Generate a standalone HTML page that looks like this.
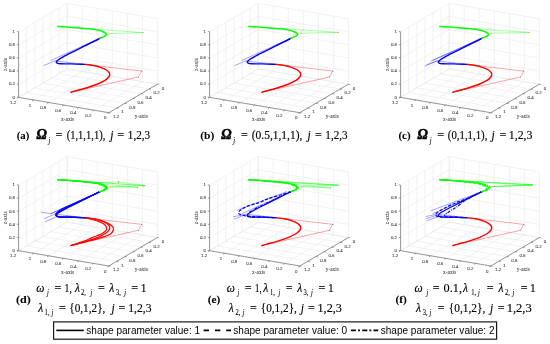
<!DOCTYPE html>
<html><head><meta charset="utf-8"><title>figure</title><style>
html,body{margin:0;padding:0;background:#fff;}
svg{display:block;}
#wrap{width:550px;height:344px;}
.g{stroke:#e4e4e4;stroke-width:0.5;}
.a{stroke:#6e6e6e;stroke-width:0.7;}
.t{font-family:"Liberation Sans",Arial,sans-serif;font-size:44px;fill:#333;stroke:#333;stroke-width:0.5px;}
.al{font-family:"Liberation Serif","Times New Roman",serif;font-size:54px;fill:#444;stroke:#444;stroke-width:0.5px;}
.kr,.kb,.kg{fill:none;stroke-width:1.45;stroke-linecap:round;stroke-linejoin:round;}
.kr{stroke:#ff0000;}.kb{stroke:#0000ff;}.kg{stroke:#00ff00;}
.thr,.thb,.thg{fill:none;stroke-width:0.45;stroke-opacity:0.8;}
.thr{stroke:#ff0000;}.thb{stroke:#0000ff;}.thg{stroke:#00ff00;}
.c{font-family:"Liberation Serif","Times New Roman",serif;fill:#000;stroke:#000;stroke-width:0.14px;}
.c[font-weight="bold"]{stroke-width:0.05px;}
.c[font-size="13.8"]{stroke-width:0.55px;}
.c[font-size="6.9"]{stroke-width:0.08px;}
.sub{font-size:7px;font-style:italic;}
.lg{font-family:"Liberation Sans",Arial,sans-serif;font-size:10.05px;fill:#000;}
</style></head>
<body><div id="wrap"><svg width="550" height="344" viewBox="0 0 550 344">
<rect width="550" height="344" fill="#fff"/>
<line class="g" x1="157.4" y1="84.2" x2="108.8" y2="112.7"/>
<line class="g" x1="142.37" y1="81.65" x2="93.77" y2="110.15"/>
<line class="g" x1="127.33" y1="79.1" x2="78.73" y2="107.6"/>
<line class="g" x1="112.3" y1="76.55" x2="63.7" y2="105.05"/>
<line class="g" x1="97.26" y1="74" x2="48.66" y2="102.5"/>
<line class="g" x1="82.23" y1="71.45" x2="33.63" y2="99.95"/>
<line class="g" x1="67.2" y1="68.9" x2="18.6" y2="97.4"/>
<line class="g" x1="157.4" y1="84.2" x2="67.2" y2="68.9"/>
<line class="g" x1="149.3" y1="88.95" x2="59.1" y2="73.65"/>
<line class="g" x1="141.2" y1="93.7" x2="51" y2="78.4"/>
<line class="g" x1="133.1" y1="98.45" x2="42.9" y2="83.15"/>
<line class="g" x1="125" y1="103.2" x2="34.8" y2="87.9"/>
<line class="g" x1="116.9" y1="107.95" x2="26.7" y2="92.65"/>
<line class="g" x1="108.8" y1="112.7" x2="18.6" y2="97.4"/>
<line class="g" x1="67.2" y1="68.9" x2="67.2" y2="3.3"/>
<line class="g" x1="59.1" y1="73.65" x2="59.1" y2="8.05"/>
<line class="g" x1="51" y1="78.4" x2="51" y2="12.8"/>
<line class="g" x1="42.9" y1="83.15" x2="42.9" y2="17.55"/>
<line class="g" x1="34.8" y1="87.9" x2="34.8" y2="22.3"/>
<line class="g" x1="26.7" y1="92.65" x2="26.7" y2="27.05"/>
<line class="g" x1="18.6" y1="97.4" x2="18.6" y2="31.8"/>
<line class="g" x1="67.2" y1="68.9" x2="18.6" y2="97.4"/>
<line class="g" x1="67.2" y1="55.78" x2="18.6" y2="84.28"/>
<line class="g" x1="67.2" y1="42.66" x2="18.6" y2="71.16"/>
<line class="g" x1="67.2" y1="29.54" x2="18.6" y2="58.04"/>
<line class="g" x1="67.2" y1="16.42" x2="18.6" y2="44.92"/>
<line class="g" x1="67.2" y1="3.3" x2="18.6" y2="31.8"/>
<line class="g" x1="157.4" y1="84.2" x2="157.4" y2="18.6"/>
<line class="g" x1="142.37" y1="81.65" x2="142.37" y2="16.05"/>
<line class="g" x1="127.33" y1="79.1" x2="127.33" y2="13.5"/>
<line class="g" x1="112.3" y1="76.55" x2="112.3" y2="10.95"/>
<line class="g" x1="97.26" y1="74" x2="97.26" y2="8.4"/>
<line class="g" x1="82.23" y1="71.45" x2="82.23" y2="5.85"/>
<line class="g" x1="67.2" y1="68.9" x2="67.2" y2="3.3"/>
<line class="g" x1="157.4" y1="84.2" x2="67.2" y2="68.9"/>
<line class="g" x1="157.4" y1="71.08" x2="67.2" y2="55.78"/>
<line class="g" x1="157.4" y1="57.96" x2="67.2" y2="42.66"/>
<line class="g" x1="157.4" y1="44.84" x2="67.2" y2="29.54"/>
<line class="g" x1="157.4" y1="31.72" x2="67.2" y2="16.42"/>
<line class="g" x1="157.4" y1="18.6" x2="67.2" y2="3.3"/>
<line class="a" x1="18.6" y1="97.4" x2="108.8" y2="112.7"/>
<line class="a" x1="108.8" y1="112.7" x2="157.4" y2="84.2"/>
<line class="a" x1="18.6" y1="97.4" x2="18.6" y2="31.8"/>
<line class="a" x1="108.8" y1="112.7" x2="107.25" y2="113.61"/>
<line class="a" x1="93.77" y1="110.15" x2="92.21" y2="111.06"/>
<line class="a" x1="78.73" y1="107.6" x2="77.18" y2="108.51"/>
<line class="a" x1="63.7" y1="105.05" x2="62.15" y2="105.96"/>
<line class="a" x1="48.66" y1="102.5" x2="47.11" y2="103.41"/>
<line class="a" x1="33.63" y1="99.95" x2="32.08" y2="100.86"/>
<line class="a" x1="18.6" y1="97.4" x2="17.04" y2="98.31"/>
<line class="a" x1="157.4" y1="84.2" x2="159.17" y2="84.5"/>
<line class="a" x1="149.3" y1="88.95" x2="151.07" y2="89.25"/>
<line class="a" x1="141.2" y1="93.7" x2="142.97" y2="94"/>
<line class="a" x1="133.1" y1="98.45" x2="134.87" y2="98.75"/>
<line class="a" x1="125" y1="103.2" x2="126.77" y2="103.5"/>
<line class="a" x1="116.9" y1="107.95" x2="118.67" y2="108.25"/>
<line class="a" x1="108.8" y1="112.7" x2="110.57" y2="113"/>
<line class="a" x1="18.6" y1="97.4" x2="16.82" y2="97.1"/>
<line class="a" x1="18.6" y1="84.28" x2="16.82" y2="83.98"/>
<line class="a" x1="18.6" y1="71.16" x2="16.82" y2="70.86"/>
<line class="a" x1="18.6" y1="58.04" x2="16.82" y2="57.74"/>
<line class="a" x1="18.6" y1="44.92" x2="16.82" y2="44.62"/>
<line class="a" x1="18.6" y1="31.8" x2="16.82" y2="31.5"/>
<text class="t" text-anchor="end" transform="translate(106.4 119.4) scale(0.1)">0</text>
<text class="t" text-anchor="end" transform="translate(91.37 116.85) scale(0.1)">0.2</text>
<text class="t" text-anchor="end" transform="translate(76.33 114.3) scale(0.1)">0.4</text>
<text class="t" text-anchor="end" transform="translate(61.3 111.75) scale(0.1)">0.6</text>
<text class="t" text-anchor="end" transform="translate(46.26 109.2) scale(0.1)">0.8</text>
<text class="t" text-anchor="end" transform="translate(31.23 106.65) scale(0.1)">1</text>
<text class="t" text-anchor="end" transform="translate(16.2 104.1) scale(0.1)">1.2</text>
<text class="t" text-anchor="start" transform="translate(161.7 89.6) scale(0.1)">0</text>
<text class="t" text-anchor="start" transform="translate(153.6 94.35) scale(0.1)">0.2</text>
<text class="t" text-anchor="start" transform="translate(145.5 99.1) scale(0.1)">0.4</text>
<text class="t" text-anchor="start" transform="translate(137.4 103.85) scale(0.1)">0.6</text>
<text class="t" text-anchor="start" transform="translate(129.3 108.6) scale(0.1)">0.8</text>
<text class="t" text-anchor="start" transform="translate(121.2 113.35) scale(0.1)">1</text>
<text class="t" text-anchor="start" transform="translate(113.1 118.1) scale(0.1)">1.2</text>
<text class="t" text-anchor="end" transform="translate(15 98.6) scale(0.1)">0</text>
<text class="t" text-anchor="end" transform="translate(15 85.48) scale(0.1)">0.2</text>
<text class="t" text-anchor="end" transform="translate(15 72.36) scale(0.1)">0.4</text>
<text class="t" text-anchor="end" transform="translate(15 59.24) scale(0.1)">0.6</text>
<text class="t" text-anchor="end" transform="translate(15 46.12) scale(0.1)">0.8</text>
<text class="t" text-anchor="end" transform="translate(15 33) scale(0.1)">1</text>
<text class="al" text-anchor="middle" transform="translate(67.6 120.5) scale(0.1)">x-axis</text>
<text class="al" text-anchor="middle" transform="translate(141.3 118) scale(0.1)">y-axis</text>
<text class="al" text-anchor="middle" transform="translate(6.9 64.5) rotate(-90) scale(0.1)">z-axis</text>
<path class="thg" d="M57.7 26.4 L143.1 32.6 L110.5 33.5 L99.9 38.3"/>
<path class="thb" d="M99.9 38.3 L50.6 60.5"/>
<path class="thb" d="M43.5 65.6 L55 60.9 L84.6 64.4"/>
<path class="thr" d="M84.6 64.4 L141.8 71.1 L138.4 77 L71 92.2"/>
<circle cx="57.7" cy="26.4" r="0.6" fill="#f0a030"/>
<circle cx="143.1" cy="32.6" r="0.6" fill="#f0a030"/>
<circle cx="110.5" cy="33.5" r="0.6" fill="#f0a030"/>
<circle cx="55" cy="60.9" r="0.6" fill="#f0a030"/>
<circle cx="141.8" cy="71.1" r="0.6" fill="#5b9bd5"/>
<circle cx="138.4" cy="77" r="0.6" fill="#5b9bd5"/>
<circle cx="71" cy="92.2" r="0.6" fill="#5b9bd5"/>
<path class="kr" d="M84.6 64.4C86.07 64.58 90.67 64.97 93.4 65.5C96.13 66.03 98.82 66.85 101 67.6C103.18 68.35 105.08 69.08 106.5 70C107.92 70.92 109.05 72.03 109.5 73.1C109.95 74.17 109.88 75.22 109.2 76.4C108.52 77.58 107.32 78.93 105.4 80.2C103.48 81.47 100.8 82.73 97.7 84C94.6 85.27 90.43 86.67 86.8 87.8C83.17 88.93 78.53 90.07 75.9 90.8C73.27 91.53 71.82 91.97 71 92.2"/>
<path class="kb" d="M99.9 38.3C98.85 38.83 96.47 40.07 93.6 41.5C90.73 42.93 86.33 45.08 82.7 46.9C79.07 48.72 75.07 50.73 71.8 52.4C68.53 54.07 65.28 55.72 63.1 56.9C60.92 58.08 59.8 58.72 58.7 59.5C57.6 60.28 56.77 61 56.5 61.6C56.23 62.2 56.37 62.73 57.1 63.1C57.83 63.47 58.45 63.67 60.9 63.8C63.35 63.93 67.85 63.8 71.8 63.9C75.75 64 82.47 64.32 84.6 64.4"/>
<path class="kg" d="M57.7 26.4C59.07 26.48 62.72 26.67 65.9 26.9C69.08 27.13 73.17 27.48 76.8 27.8C80.43 28.12 84.42 28.45 87.7 28.8C90.98 29.15 94.13 29.48 96.5 29.9C98.87 30.32 100.37 30.77 101.9 31.3C103.43 31.83 104.97 32.5 105.7 33.1C106.43 33.7 106.57 34.3 106.3 34.9C106.03 35.5 105.17 36.13 104.1 36.7C103.03 37.27 100.6 38.03 99.9 38.3"/>
<line class="g" x1="348.4" y1="84.2" x2="299.8" y2="112.7"/>
<line class="g" x1="333.37" y1="81.65" x2="284.77" y2="110.15"/>
<line class="g" x1="318.33" y1="79.1" x2="269.73" y2="107.6"/>
<line class="g" x1="303.3" y1="76.55" x2="254.7" y2="105.05"/>
<line class="g" x1="288.26" y1="74" x2="239.66" y2="102.5"/>
<line class="g" x1="273.23" y1="71.45" x2="224.63" y2="99.95"/>
<line class="g" x1="258.2" y1="68.9" x2="209.6" y2="97.4"/>
<line class="g" x1="348.4" y1="84.2" x2="258.2" y2="68.9"/>
<line class="g" x1="340.3" y1="88.95" x2="250.1" y2="73.65"/>
<line class="g" x1="332.2" y1="93.7" x2="242" y2="78.4"/>
<line class="g" x1="324.1" y1="98.45" x2="233.9" y2="83.15"/>
<line class="g" x1="316" y1="103.2" x2="225.8" y2="87.9"/>
<line class="g" x1="307.9" y1="107.95" x2="217.7" y2="92.65"/>
<line class="g" x1="299.8" y1="112.7" x2="209.6" y2="97.4"/>
<line class="g" x1="258.2" y1="68.9" x2="258.2" y2="3.3"/>
<line class="g" x1="250.1" y1="73.65" x2="250.1" y2="8.05"/>
<line class="g" x1="242" y1="78.4" x2="242" y2="12.8"/>
<line class="g" x1="233.9" y1="83.15" x2="233.9" y2="17.55"/>
<line class="g" x1="225.8" y1="87.9" x2="225.8" y2="22.3"/>
<line class="g" x1="217.7" y1="92.65" x2="217.7" y2="27.05"/>
<line class="g" x1="209.6" y1="97.4" x2="209.6" y2="31.8"/>
<line class="g" x1="258.2" y1="68.9" x2="209.6" y2="97.4"/>
<line class="g" x1="258.2" y1="55.78" x2="209.6" y2="84.28"/>
<line class="g" x1="258.2" y1="42.66" x2="209.6" y2="71.16"/>
<line class="g" x1="258.2" y1="29.54" x2="209.6" y2="58.04"/>
<line class="g" x1="258.2" y1="16.42" x2="209.6" y2="44.92"/>
<line class="g" x1="258.2" y1="3.3" x2="209.6" y2="31.8"/>
<line class="g" x1="348.4" y1="84.2" x2="348.4" y2="18.6"/>
<line class="g" x1="333.37" y1="81.65" x2="333.37" y2="16.05"/>
<line class="g" x1="318.33" y1="79.1" x2="318.33" y2="13.5"/>
<line class="g" x1="303.3" y1="76.55" x2="303.3" y2="10.95"/>
<line class="g" x1="288.26" y1="74" x2="288.26" y2="8.4"/>
<line class="g" x1="273.23" y1="71.45" x2="273.23" y2="5.85"/>
<line class="g" x1="258.2" y1="68.9" x2="258.2" y2="3.3"/>
<line class="g" x1="348.4" y1="84.2" x2="258.2" y2="68.9"/>
<line class="g" x1="348.4" y1="71.08" x2="258.2" y2="55.78"/>
<line class="g" x1="348.4" y1="57.96" x2="258.2" y2="42.66"/>
<line class="g" x1="348.4" y1="44.84" x2="258.2" y2="29.54"/>
<line class="g" x1="348.4" y1="31.72" x2="258.2" y2="16.42"/>
<line class="g" x1="348.4" y1="18.6" x2="258.2" y2="3.3"/>
<line class="a" x1="209.6" y1="97.4" x2="299.8" y2="112.7"/>
<line class="a" x1="299.8" y1="112.7" x2="348.4" y2="84.2"/>
<line class="a" x1="209.6" y1="97.4" x2="209.6" y2="31.8"/>
<line class="a" x1="299.8" y1="112.7" x2="298.25" y2="113.61"/>
<line class="a" x1="284.77" y1="110.15" x2="283.21" y2="111.06"/>
<line class="a" x1="269.73" y1="107.6" x2="268.18" y2="108.51"/>
<line class="a" x1="254.7" y1="105.05" x2="253.15" y2="105.96"/>
<line class="a" x1="239.66" y1="102.5" x2="238.11" y2="103.41"/>
<line class="a" x1="224.63" y1="99.95" x2="223.08" y2="100.86"/>
<line class="a" x1="209.6" y1="97.4" x2="208.04" y2="98.31"/>
<line class="a" x1="348.4" y1="84.2" x2="350.17" y2="84.5"/>
<line class="a" x1="340.3" y1="88.95" x2="342.07" y2="89.25"/>
<line class="a" x1="332.2" y1="93.7" x2="333.97" y2="94"/>
<line class="a" x1="324.1" y1="98.45" x2="325.87" y2="98.75"/>
<line class="a" x1="316" y1="103.2" x2="317.77" y2="103.5"/>
<line class="a" x1="307.9" y1="107.95" x2="309.67" y2="108.25"/>
<line class="a" x1="299.8" y1="112.7" x2="301.57" y2="113"/>
<line class="a" x1="209.6" y1="97.4" x2="207.82" y2="97.1"/>
<line class="a" x1="209.6" y1="84.28" x2="207.82" y2="83.98"/>
<line class="a" x1="209.6" y1="71.16" x2="207.82" y2="70.86"/>
<line class="a" x1="209.6" y1="58.04" x2="207.82" y2="57.74"/>
<line class="a" x1="209.6" y1="44.92" x2="207.82" y2="44.62"/>
<line class="a" x1="209.6" y1="31.8" x2="207.82" y2="31.5"/>
<text class="t" text-anchor="end" transform="translate(297.4 119.4) scale(0.1)">0</text>
<text class="t" text-anchor="end" transform="translate(282.37 116.85) scale(0.1)">0.2</text>
<text class="t" text-anchor="end" transform="translate(267.33 114.3) scale(0.1)">0.4</text>
<text class="t" text-anchor="end" transform="translate(252.3 111.75) scale(0.1)">0.6</text>
<text class="t" text-anchor="end" transform="translate(237.26 109.2) scale(0.1)">0.8</text>
<text class="t" text-anchor="end" transform="translate(222.23 106.65) scale(0.1)">1</text>
<text class="t" text-anchor="end" transform="translate(207.2 104.1) scale(0.1)">1.2</text>
<text class="t" text-anchor="start" transform="translate(352.7 89.6) scale(0.1)">0</text>
<text class="t" text-anchor="start" transform="translate(344.6 94.35) scale(0.1)">0.2</text>
<text class="t" text-anchor="start" transform="translate(336.5 99.1) scale(0.1)">0.4</text>
<text class="t" text-anchor="start" transform="translate(328.4 103.85) scale(0.1)">0.6</text>
<text class="t" text-anchor="start" transform="translate(320.3 108.6) scale(0.1)">0.8</text>
<text class="t" text-anchor="start" transform="translate(312.2 113.35) scale(0.1)">1</text>
<text class="t" text-anchor="start" transform="translate(304.1 118.1) scale(0.1)">1.2</text>
<text class="t" text-anchor="end" transform="translate(206 98.6) scale(0.1)">0</text>
<text class="t" text-anchor="end" transform="translate(206 85.48) scale(0.1)">0.2</text>
<text class="t" text-anchor="end" transform="translate(206 72.36) scale(0.1)">0.4</text>
<text class="t" text-anchor="end" transform="translate(206 59.24) scale(0.1)">0.6</text>
<text class="t" text-anchor="end" transform="translate(206 46.12) scale(0.1)">0.8</text>
<text class="t" text-anchor="end" transform="translate(206 33) scale(0.1)">1</text>
<text class="al" text-anchor="middle" transform="translate(258.6 120.5) scale(0.1)">x-axis</text>
<text class="al" text-anchor="middle" transform="translate(332.3 118) scale(0.1)">y-axis</text>
<text class="al" text-anchor="middle" transform="translate(197.9 64.5) rotate(-90) scale(0.1)">z-axis</text>
<path class="thg" d="M248.7 26.4 L338.3 32.4 L301 33.2 L290.9 38.3"/>
<path class="thb" d="M290.9 38.3 L241.6 60.5"/>
<path class="thb" d="M234.5 65.6 L246 60.9 L275.6 64.4"/>
<path class="thr" d="M275.6 64.4 L332.8 71.1 L329.4 77 L262 92.2"/>
<circle cx="248.7" cy="26.4" r="0.6" fill="#f0a030"/>
<circle cx="338.3" cy="32.4" r="0.6" fill="#f0a030"/>
<circle cx="301" cy="33.2" r="0.6" fill="#f0a030"/>
<circle cx="246" cy="60.9" r="0.6" fill="#f0a030"/>
<circle cx="332.8" cy="71.1" r="0.6" fill="#5b9bd5"/>
<circle cx="329.4" cy="77" r="0.6" fill="#5b9bd5"/>
<circle cx="262" cy="92.2" r="0.6" fill="#5b9bd5"/>
<path class="kr" d="M275.6 64.4C277.07 64.58 281.67 64.97 284.4 65.5C287.13 66.03 289.82 66.85 292 67.6C294.18 68.35 296.08 69.08 297.5 70C298.92 70.92 300.05 72.03 300.5 73.1C300.95 74.17 300.88 75.22 300.2 76.4C299.52 77.58 298.32 78.93 296.4 80.2C294.48 81.47 291.8 82.73 288.7 84C285.6 85.27 281.43 86.67 277.8 87.8C274.17 88.93 269.53 90.07 266.9 90.8C264.27 91.53 262.82 91.97 262 92.2"/>
<path class="kb" d="M290.9 38.3C289.85 38.83 287.47 40.07 284.6 41.5C281.73 42.93 277.33 45.08 273.7 46.9C270.07 48.72 266.07 50.73 262.8 52.4C259.53 54.07 256.28 55.72 254.1 56.9C251.92 58.08 250.8 58.72 249.7 59.5C248.6 60.28 247.77 61 247.5 61.6C247.23 62.2 247.37 62.73 248.1 63.1C248.83 63.47 249.45 63.67 251.9 63.8C254.35 63.93 258.85 63.8 262.8 63.9C266.75 64 273.47 64.32 275.6 64.4"/>
<path class="kg" d="M248.7 26.4C250.07 26.48 253.72 26.67 256.9 26.9C260.08 27.13 264.17 27.48 267.8 27.8C271.43 28.12 275.42 28.45 278.7 28.8C281.98 29.15 285.13 29.48 287.5 29.9C289.87 30.32 291.37 30.77 292.9 31.3C294.43 31.83 295.97 32.5 296.7 33.1C297.43 33.7 297.57 34.3 297.3 34.9C297.03 35.5 296.17 36.13 295.1 36.7C294.03 37.27 291.6 38.03 290.9 38.3"/>
<line class="g" x1="539.4" y1="84.2" x2="490.8" y2="112.7"/>
<line class="g" x1="524.37" y1="81.65" x2="475.77" y2="110.15"/>
<line class="g" x1="509.33" y1="79.1" x2="460.73" y2="107.6"/>
<line class="g" x1="494.3" y1="76.55" x2="445.7" y2="105.05"/>
<line class="g" x1="479.26" y1="74" x2="430.66" y2="102.5"/>
<line class="g" x1="464.23" y1="71.45" x2="415.63" y2="99.95"/>
<line class="g" x1="449.2" y1="68.9" x2="400.6" y2="97.4"/>
<line class="g" x1="539.4" y1="84.2" x2="449.2" y2="68.9"/>
<line class="g" x1="531.3" y1="88.95" x2="441.1" y2="73.65"/>
<line class="g" x1="523.2" y1="93.7" x2="433" y2="78.4"/>
<line class="g" x1="515.1" y1="98.45" x2="424.9" y2="83.15"/>
<line class="g" x1="507" y1="103.2" x2="416.8" y2="87.9"/>
<line class="g" x1="498.9" y1="107.95" x2="408.7" y2="92.65"/>
<line class="g" x1="490.8" y1="112.7" x2="400.6" y2="97.4"/>
<line class="g" x1="449.2" y1="68.9" x2="449.2" y2="3.3"/>
<line class="g" x1="441.1" y1="73.65" x2="441.1" y2="8.05"/>
<line class="g" x1="433" y1="78.4" x2="433" y2="12.8"/>
<line class="g" x1="424.9" y1="83.15" x2="424.9" y2="17.55"/>
<line class="g" x1="416.8" y1="87.9" x2="416.8" y2="22.3"/>
<line class="g" x1="408.7" y1="92.65" x2="408.7" y2="27.05"/>
<line class="g" x1="400.6" y1="97.4" x2="400.6" y2="31.8"/>
<line class="g" x1="449.2" y1="68.9" x2="400.6" y2="97.4"/>
<line class="g" x1="449.2" y1="55.78" x2="400.6" y2="84.28"/>
<line class="g" x1="449.2" y1="42.66" x2="400.6" y2="71.16"/>
<line class="g" x1="449.2" y1="29.54" x2="400.6" y2="58.04"/>
<line class="g" x1="449.2" y1="16.42" x2="400.6" y2="44.92"/>
<line class="g" x1="449.2" y1="3.3" x2="400.6" y2="31.8"/>
<line class="g" x1="539.4" y1="84.2" x2="539.4" y2="18.6"/>
<line class="g" x1="524.37" y1="81.65" x2="524.37" y2="16.05"/>
<line class="g" x1="509.33" y1="79.1" x2="509.33" y2="13.5"/>
<line class="g" x1="494.3" y1="76.55" x2="494.3" y2="10.95"/>
<line class="g" x1="479.26" y1="74" x2="479.26" y2="8.4"/>
<line class="g" x1="464.23" y1="71.45" x2="464.23" y2="5.85"/>
<line class="g" x1="449.2" y1="68.9" x2="449.2" y2="3.3"/>
<line class="g" x1="539.4" y1="84.2" x2="449.2" y2="68.9"/>
<line class="g" x1="539.4" y1="71.08" x2="449.2" y2="55.78"/>
<line class="g" x1="539.4" y1="57.96" x2="449.2" y2="42.66"/>
<line class="g" x1="539.4" y1="44.84" x2="449.2" y2="29.54"/>
<line class="g" x1="539.4" y1="31.72" x2="449.2" y2="16.42"/>
<line class="g" x1="539.4" y1="18.6" x2="449.2" y2="3.3"/>
<line class="a" x1="400.6" y1="97.4" x2="490.8" y2="112.7"/>
<line class="a" x1="490.8" y1="112.7" x2="539.4" y2="84.2"/>
<line class="a" x1="400.6" y1="97.4" x2="400.6" y2="31.8"/>
<line class="a" x1="490.8" y1="112.7" x2="489.25" y2="113.61"/>
<line class="a" x1="475.77" y1="110.15" x2="474.21" y2="111.06"/>
<line class="a" x1="460.73" y1="107.6" x2="459.18" y2="108.51"/>
<line class="a" x1="445.7" y1="105.05" x2="444.15" y2="105.96"/>
<line class="a" x1="430.66" y1="102.5" x2="429.11" y2="103.41"/>
<line class="a" x1="415.63" y1="99.95" x2="414.08" y2="100.86"/>
<line class="a" x1="400.6" y1="97.4" x2="399.04" y2="98.31"/>
<line class="a" x1="539.4" y1="84.2" x2="541.17" y2="84.5"/>
<line class="a" x1="531.3" y1="88.95" x2="533.07" y2="89.25"/>
<line class="a" x1="523.2" y1="93.7" x2="524.97" y2="94"/>
<line class="a" x1="515.1" y1="98.45" x2="516.87" y2="98.75"/>
<line class="a" x1="507" y1="103.2" x2="508.77" y2="103.5"/>
<line class="a" x1="498.9" y1="107.95" x2="500.67" y2="108.25"/>
<line class="a" x1="490.8" y1="112.7" x2="492.57" y2="113"/>
<line class="a" x1="400.6" y1="97.4" x2="398.82" y2="97.1"/>
<line class="a" x1="400.6" y1="84.28" x2="398.82" y2="83.98"/>
<line class="a" x1="400.6" y1="71.16" x2="398.82" y2="70.86"/>
<line class="a" x1="400.6" y1="58.04" x2="398.82" y2="57.74"/>
<line class="a" x1="400.6" y1="44.92" x2="398.82" y2="44.62"/>
<line class="a" x1="400.6" y1="31.8" x2="398.82" y2="31.5"/>
<text class="t" text-anchor="end" transform="translate(488.4 119.4) scale(0.1)">0</text>
<text class="t" text-anchor="end" transform="translate(473.37 116.85) scale(0.1)">0.2</text>
<text class="t" text-anchor="end" transform="translate(458.33 114.3) scale(0.1)">0.4</text>
<text class="t" text-anchor="end" transform="translate(443.3 111.75) scale(0.1)">0.6</text>
<text class="t" text-anchor="end" transform="translate(428.26 109.2) scale(0.1)">0.8</text>
<text class="t" text-anchor="end" transform="translate(413.23 106.65) scale(0.1)">1</text>
<text class="t" text-anchor="end" transform="translate(398.2 104.1) scale(0.1)">1.2</text>
<text class="t" text-anchor="start" transform="translate(543.7 89.6) scale(0.1)">0</text>
<text class="t" text-anchor="start" transform="translate(535.6 94.35) scale(0.1)">0.2</text>
<text class="t" text-anchor="start" transform="translate(527.5 99.1) scale(0.1)">0.4</text>
<text class="t" text-anchor="start" transform="translate(519.4 103.85) scale(0.1)">0.6</text>
<text class="t" text-anchor="start" transform="translate(511.3 108.6) scale(0.1)">0.8</text>
<text class="t" text-anchor="start" transform="translate(503.2 113.35) scale(0.1)">1</text>
<text class="t" text-anchor="start" transform="translate(495.1 118.1) scale(0.1)">1.2</text>
<text class="t" text-anchor="end" transform="translate(397 98.6) scale(0.1)">0</text>
<text class="t" text-anchor="end" transform="translate(397 85.48) scale(0.1)">0.2</text>
<text class="t" text-anchor="end" transform="translate(397 72.36) scale(0.1)">0.4</text>
<text class="t" text-anchor="end" transform="translate(397 59.24) scale(0.1)">0.6</text>
<text class="t" text-anchor="end" transform="translate(397 46.12) scale(0.1)">0.8</text>
<text class="t" text-anchor="end" transform="translate(397 33) scale(0.1)">1</text>
<text class="al" text-anchor="middle" transform="translate(449.6 120.5) scale(0.1)">x-axis</text>
<text class="al" text-anchor="middle" transform="translate(523.3 118) scale(0.1)">y-axis</text>
<text class="al" text-anchor="middle" transform="translate(388.9 64.5) rotate(-90) scale(0.1)">z-axis</text>
<path class="thg" d="M439.7 26.4 L529.3 32.4 L492 33.2 L481.9 38.3"/>
<path class="thb" d="M481.9 38.3 L432.6 60.5"/>
<path class="thb" d="M481.9 38.3 L430.5 61.2"/>
<path class="thb" d="M424.5 66.2 L437 60.9 L466.6 64.4"/>
<path class="thb" d="M426.5 64.8 L438 60.5"/>
<path class="thr" d="M466.6 64.4 L523.8 71.1 L520.4 77 L453 92.2"/>
<circle cx="439.7" cy="26.4" r="0.6" fill="#f0a030"/>
<circle cx="529.3" cy="32.4" r="0.6" fill="#f0a030"/>
<circle cx="492" cy="33.2" r="0.6" fill="#f0a030"/>
<circle cx="437" cy="60.9" r="0.6" fill="#f0a030"/>
<circle cx="523.8" cy="71.1" r="0.6" fill="#5b9bd5"/>
<circle cx="520.4" cy="77" r="0.6" fill="#5b9bd5"/>
<circle cx="453" cy="92.2" r="0.6" fill="#5b9bd5"/>
<path class="kr" d="M466.6 64.4C468.07 64.58 472.67 64.97 475.4 65.5C478.13 66.03 480.82 66.85 483 67.6C485.18 68.35 487.08 69.08 488.5 70C489.92 70.92 491.05 72.03 491.5 73.1C491.95 74.17 491.88 75.22 491.2 76.4C490.52 77.58 489.32 78.93 487.4 80.2C485.48 81.47 482.8 82.73 479.7 84C476.6 85.27 472.43 86.67 468.8 87.8C465.17 88.93 460.53 90.07 457.9 90.8C455.27 91.53 453.82 91.97 453 92.2"/>
<path class="kb" d="M481.9 38.3C480.85 38.83 478.47 40.07 475.6 41.5C472.73 42.93 468.33 45.08 464.7 46.9C461.07 48.72 457.07 50.73 453.8 52.4C450.53 54.07 447.28 55.72 445.1 56.9C442.92 58.08 441.8 58.72 440.7 59.5C439.6 60.28 438.77 61 438.5 61.6C438.23 62.2 438.37 62.73 439.1 63.1C439.83 63.47 440.45 63.67 442.9 63.8C445.35 63.93 449.85 63.8 453.8 63.9C457.75 64 464.47 64.32 466.6 64.4"/>
<path class="kg" d="M439.7 26.4C441.07 26.48 444.72 26.67 447.9 26.9C451.08 27.13 455.17 27.48 458.8 27.8C462.43 28.12 466.42 28.45 469.7 28.8C472.98 29.15 476.13 29.48 478.5 29.9C480.87 30.32 482.37 30.77 483.9 31.3C485.43 31.83 486.97 32.5 487.7 33.1C488.43 33.7 488.57 34.3 488.3 34.9C488.03 35.5 487.17 36.13 486.1 36.7C485.03 37.27 482.6 38.03 481.9 38.3"/>
<line class="g" x1="157.4" y1="237.5" x2="108.8" y2="266"/>
<line class="g" x1="142.37" y1="234.95" x2="93.77" y2="263.45"/>
<line class="g" x1="127.33" y1="232.4" x2="78.73" y2="260.9"/>
<line class="g" x1="112.3" y1="229.85" x2="63.7" y2="258.35"/>
<line class="g" x1="97.26" y1="227.3" x2="48.66" y2="255.8"/>
<line class="g" x1="82.23" y1="224.75" x2="33.63" y2="253.25"/>
<line class="g" x1="67.2" y1="222.2" x2="18.6" y2="250.7"/>
<line class="g" x1="157.4" y1="237.5" x2="67.2" y2="222.2"/>
<line class="g" x1="149.3" y1="242.25" x2="59.1" y2="226.95"/>
<line class="g" x1="141.2" y1="247" x2="51" y2="231.7"/>
<line class="g" x1="133.1" y1="251.75" x2="42.9" y2="236.45"/>
<line class="g" x1="125" y1="256.5" x2="34.8" y2="241.2"/>
<line class="g" x1="116.9" y1="261.25" x2="26.7" y2="245.95"/>
<line class="g" x1="108.8" y1="266" x2="18.6" y2="250.7"/>
<line class="g" x1="67.2" y1="222.2" x2="67.2" y2="156.6"/>
<line class="g" x1="59.1" y1="226.95" x2="59.1" y2="161.35"/>
<line class="g" x1="51" y1="231.7" x2="51" y2="166.1"/>
<line class="g" x1="42.9" y1="236.45" x2="42.9" y2="170.85"/>
<line class="g" x1="34.8" y1="241.2" x2="34.8" y2="175.6"/>
<line class="g" x1="26.7" y1="245.95" x2="26.7" y2="180.35"/>
<line class="g" x1="18.6" y1="250.7" x2="18.6" y2="185.1"/>
<line class="g" x1="67.2" y1="222.2" x2="18.6" y2="250.7"/>
<line class="g" x1="67.2" y1="209.08" x2="18.6" y2="237.58"/>
<line class="g" x1="67.2" y1="195.96" x2="18.6" y2="224.46"/>
<line class="g" x1="67.2" y1="182.84" x2="18.6" y2="211.34"/>
<line class="g" x1="67.2" y1="169.72" x2="18.6" y2="198.22"/>
<line class="g" x1="67.2" y1="156.6" x2="18.6" y2="185.1"/>
<line class="g" x1="157.4" y1="237.5" x2="157.4" y2="171.9"/>
<line class="g" x1="142.37" y1="234.95" x2="142.37" y2="169.35"/>
<line class="g" x1="127.33" y1="232.4" x2="127.33" y2="166.8"/>
<line class="g" x1="112.3" y1="229.85" x2="112.3" y2="164.25"/>
<line class="g" x1="97.26" y1="227.3" x2="97.26" y2="161.7"/>
<line class="g" x1="82.23" y1="224.75" x2="82.23" y2="159.15"/>
<line class="g" x1="67.2" y1="222.2" x2="67.2" y2="156.6"/>
<line class="g" x1="157.4" y1="237.5" x2="67.2" y2="222.2"/>
<line class="g" x1="157.4" y1="224.38" x2="67.2" y2="209.08"/>
<line class="g" x1="157.4" y1="211.26" x2="67.2" y2="195.96"/>
<line class="g" x1="157.4" y1="198.14" x2="67.2" y2="182.84"/>
<line class="g" x1="157.4" y1="185.02" x2="67.2" y2="169.72"/>
<line class="g" x1="157.4" y1="171.9" x2="67.2" y2="156.6"/>
<line class="a" x1="18.6" y1="250.7" x2="108.8" y2="266"/>
<line class="a" x1="108.8" y1="266" x2="157.4" y2="237.5"/>
<line class="a" x1="18.6" y1="250.7" x2="18.6" y2="185.1"/>
<line class="a" x1="108.8" y1="266" x2="107.25" y2="266.91"/>
<line class="a" x1="93.77" y1="263.45" x2="92.21" y2="264.36"/>
<line class="a" x1="78.73" y1="260.9" x2="77.18" y2="261.81"/>
<line class="a" x1="63.7" y1="258.35" x2="62.15" y2="259.26"/>
<line class="a" x1="48.66" y1="255.8" x2="47.11" y2="256.71"/>
<line class="a" x1="33.63" y1="253.25" x2="32.08" y2="254.16"/>
<line class="a" x1="18.6" y1="250.7" x2="17.04" y2="251.61"/>
<line class="a" x1="157.4" y1="237.5" x2="159.17" y2="237.8"/>
<line class="a" x1="149.3" y1="242.25" x2="151.07" y2="242.55"/>
<line class="a" x1="141.2" y1="247" x2="142.97" y2="247.3"/>
<line class="a" x1="133.1" y1="251.75" x2="134.87" y2="252.05"/>
<line class="a" x1="125" y1="256.5" x2="126.77" y2="256.8"/>
<line class="a" x1="116.9" y1="261.25" x2="118.67" y2="261.55"/>
<line class="a" x1="108.8" y1="266" x2="110.57" y2="266.3"/>
<line class="a" x1="18.6" y1="250.7" x2="16.82" y2="250.4"/>
<line class="a" x1="18.6" y1="237.58" x2="16.82" y2="237.28"/>
<line class="a" x1="18.6" y1="224.46" x2="16.82" y2="224.16"/>
<line class="a" x1="18.6" y1="211.34" x2="16.82" y2="211.04"/>
<line class="a" x1="18.6" y1="198.22" x2="16.82" y2="197.92"/>
<line class="a" x1="18.6" y1="185.1" x2="16.82" y2="184.8"/>
<text class="t" text-anchor="end" transform="translate(106.4 272.7) scale(0.1)">0</text>
<text class="t" text-anchor="end" transform="translate(91.37 270.15) scale(0.1)">0.2</text>
<text class="t" text-anchor="end" transform="translate(76.33 267.6) scale(0.1)">0.4</text>
<text class="t" text-anchor="end" transform="translate(61.3 265.05) scale(0.1)">0.6</text>
<text class="t" text-anchor="end" transform="translate(46.26 262.5) scale(0.1)">0.8</text>
<text class="t" text-anchor="end" transform="translate(31.23 259.95) scale(0.1)">1</text>
<text class="t" text-anchor="end" transform="translate(16.2 257.4) scale(0.1)">1.2</text>
<text class="t" text-anchor="start" transform="translate(161.7 242.9) scale(0.1)">0</text>
<text class="t" text-anchor="start" transform="translate(153.6 247.65) scale(0.1)">0.2</text>
<text class="t" text-anchor="start" transform="translate(145.5 252.4) scale(0.1)">0.4</text>
<text class="t" text-anchor="start" transform="translate(137.4 257.15) scale(0.1)">0.6</text>
<text class="t" text-anchor="start" transform="translate(129.3 261.9) scale(0.1)">0.8</text>
<text class="t" text-anchor="start" transform="translate(121.2 266.65) scale(0.1)">1</text>
<text class="t" text-anchor="start" transform="translate(113.1 271.4) scale(0.1)">1.2</text>
<text class="t" text-anchor="end" transform="translate(15 251.9) scale(0.1)">0</text>
<text class="t" text-anchor="end" transform="translate(15 238.78) scale(0.1)">0.2</text>
<text class="t" text-anchor="end" transform="translate(15 225.66) scale(0.1)">0.4</text>
<text class="t" text-anchor="end" transform="translate(15 212.54) scale(0.1)">0.6</text>
<text class="t" text-anchor="end" transform="translate(15 199.42) scale(0.1)">0.8</text>
<text class="t" text-anchor="end" transform="translate(15 186.3) scale(0.1)">1</text>
<text class="al" text-anchor="middle" transform="translate(67.6 273.8) scale(0.1)">x-axis</text>
<text class="al" text-anchor="middle" transform="translate(141.3 271.3) scale(0.1)">y-axis</text>
<text class="al" text-anchor="middle" transform="translate(6.9 217.8) rotate(-90) scale(0.1)">z-axis</text>
<path class="thg" d="M57.7 179.7 L145.3 185.5 L110.4 186.9 L99.9 191.6"/>
<path class="thg" d="M95 182.8 L118.5 181.9 L145.3 185.5"/>
<path class="thg" d="M98 183.8 L137.6 187.3 L110.4 186.9"/>
<path class="thg" d="M57.7 179.7 L145.3 185.9"/>
<path class="thb" d="M99.9 191.6 L50.6 213.8"/>
<path class="thb" d="M41 212.3 L51 213.5 L99.9 191.6"/>
<path class="thb" d="M44.1 218.7 L56 213.5"/>
<path class="thb" d="M45.2 221.8 L57 216.5"/>
<path class="thb" d="M55 214.2 L84.6 217.7"/>
<path class="thr" d="M84.6 217.7 L141.8 224.4 L138.4 230.3 L71 245.5"/>
<circle cx="57.7" cy="179.7" r="0.6" fill="#f0a030"/>
<circle cx="118.5" cy="181.9" r="0.6" fill="#ff4040"/>
<circle cx="137.6" cy="187.3" r="0.6" fill="#ff6060"/>
<circle cx="143.6" cy="186.2" r="0.6" fill="#f0a030"/>
<circle cx="110.4" cy="186.9" r="0.6" fill="#f0a030"/>
<circle cx="55" cy="214.2" r="0.6" fill="#f0a030"/>
<circle cx="141.8" cy="224.4" r="0.6" fill="#5b9bd5"/>
<circle cx="138.4" cy="230.3" r="0.6" fill="#5b9bd5"/>
<circle cx="71" cy="245.5" r="0.6" fill="#5b9bd5"/>
<path class="kr" style="stroke-width:1.25" d="M84.6 217.7C85.83 218 89.6 218.85 92 219.5C94.4 220.15 96.97 220.8 99 221.6C101.03 222.4 102.93 223.32 104.2 224.3C105.47 225.28 106.3 226.43 106.6 227.5C106.9 228.57 106.67 229.73 106 230.7C105.33 231.67 104.02 232.5 102.6 233.3C101.18 234.1 99.35 234.73 97.5 235.5C95.65 236.27 93.75 236.95 91.5 237.9C89.25 238.85 86.58 240.18 84 241.2C81.42 242.22 78.17 243.28 76 244C73.83 244.72 71.83 245.25 71 245.5"/>
<path class="kr" style="stroke-width:1.25" d="M84.6 217.7C86.07 217.85 90.58 218.13 93.4 218.6C96.22 219.07 98.98 219.67 101.5 220.5C104.02 221.33 106.62 222.53 108.5 223.6C110.38 224.67 112 225.78 112.8 226.9C113.6 228.02 113.68 229.13 113.3 230.3C112.92 231.47 111.97 232.83 110.5 233.9C109.03 234.97 106.75 235.87 104.5 236.7C102.25 237.53 99.42 238.25 97 238.9C94.58 239.55 92.83 239.88 90 240.6C87.17 241.32 83.17 242.38 80 243.2C76.83 244.02 72.5 245.12 71 245.5"/>
<path class="kr" style="stroke-width:1.25" d="M84.6 217.7C86.07 217.88 90.67 218.27 93.4 218.8C96.13 219.33 98.82 220.15 101 220.9C103.18 221.65 105.08 222.38 106.5 223.3C107.92 224.22 109.05 225.33 109.5 226.4C109.95 227.47 109.88 228.52 109.2 229.7C108.52 230.88 107.32 232.23 105.4 233.5C103.48 234.77 100.8 236.03 97.7 237.3C94.6 238.57 90.43 239.97 86.8 241.1C83.17 242.23 78.53 243.37 75.9 244.1C73.27 244.83 71.82 245.27 71 245.5"/>
<path class="kb" style="stroke-width:1.25" d="M99.9 191.6C98.85 192.12 96.47 193.35 93.6 194.7C90.73 196.05 86.33 198.07 82.7 199.7C79.07 201.33 75.07 203.03 71.8 204.5C68.53 205.97 65.37 207.33 63.1 208.5C60.83 209.67 59.42 210.57 58.2 211.5C56.98 212.43 56.07 213.33 55.8 214.1C55.53 214.87 55.75 215.6 56.6 216.1C57.45 216.6 58.37 216.92 60.9 217.1C63.43 217.28 67.85 217.1 71.8 217.2C75.75 217.3 82.47 217.62 84.6 217.7"/>
<path class="kb" style="stroke-width:1.25" d="M99.9 191.6C98.85 192.13 96.47 193.35 93.6 194.75C90.73 196.15 86.33 198.26 82.7 200C79.07 201.74 75.07 203.62 71.8 205.2C68.53 206.78 65.32 208.32 63.1 209.5C60.88 210.68 59.63 211.47 58.5 212.3C57.37 213.13 56.55 213.83 56.3 214.5C56.05 215.17 56.23 215.87 57 216.3C57.77 216.73 58.43 216.95 60.9 217.1C63.37 217.25 67.85 217.1 71.8 217.2C75.75 217.3 82.47 217.62 84.6 217.7"/>
<path class="kb" style="stroke-width:1.25" d="M99.9 191.6C98.85 192.13 96.47 193.37 93.6 194.8C90.73 196.23 86.33 198.38 82.7 200.2C79.07 202.02 75.07 204.03 71.8 205.7C68.53 207.37 65.28 209.02 63.1 210.2C60.92 211.38 59.8 212.02 58.7 212.8C57.6 213.58 56.77 214.3 56.5 214.9C56.23 215.5 56.37 216.03 57.1 216.4C57.83 216.77 58.45 216.97 60.9 217.1C63.35 217.23 67.85 217.1 71.8 217.2C75.75 217.3 82.47 217.62 84.6 217.7"/>
<path class="kg" style="stroke-width:1.25" d="M57.7 179.7C59.07 179.79 62.72 180 65.9 180.25C69.08 180.5 73.17 180.86 76.8 181.2C80.43 181.54 84.42 181.92 87.7 182.3C90.98 182.68 94.22 183.05 96.5 183.5C98.78 183.95 100 184.47 101.4 185C102.8 185.53 104.23 186.15 104.9 186.7C105.57 187.25 105.65 187.73 105.4 188.3C105.15 188.87 104.32 189.55 103.4 190.1C102.48 190.65 100.48 191.35 99.9 191.6"/>
<path class="kg" style="stroke-width:1.25" d="M57.7 179.7C59.07 179.78 62.72 179.93 65.9 180.15C69.08 180.37 73.17 180.71 76.8 181C80.43 181.29 84.42 181.57 87.7 181.9C90.98 182.23 94.07 182.58 96.5 183C98.93 183.42 100.65 183.85 102.3 184.4C103.95 184.95 105.58 185.67 106.4 186.3C107.22 186.93 107.47 187.57 107.2 188.2C106.93 188.83 106.02 189.53 104.8 190.1C103.58 190.67 100.72 191.35 99.9 191.6"/>
<path class="kg" style="stroke-width:1.25" d="M57.7 179.7C59.07 179.78 62.72 179.97 65.9 180.2C69.08 180.43 73.17 180.78 76.8 181.1C80.43 181.42 84.42 181.75 87.7 182.1C90.98 182.45 94.13 182.78 96.5 183.2C98.87 183.62 100.37 184.07 101.9 184.6C103.43 185.13 104.97 185.8 105.7 186.4C106.43 187 106.57 187.6 106.3 188.2C106.03 188.8 105.17 189.43 104.1 190C103.03 190.57 100.6 191.33 99.9 191.6"/>
<line class="g" x1="348.4" y1="237.5" x2="299.8" y2="266"/>
<line class="g" x1="333.37" y1="234.95" x2="284.77" y2="263.45"/>
<line class="g" x1="318.33" y1="232.4" x2="269.73" y2="260.9"/>
<line class="g" x1="303.3" y1="229.85" x2="254.7" y2="258.35"/>
<line class="g" x1="288.26" y1="227.3" x2="239.66" y2="255.8"/>
<line class="g" x1="273.23" y1="224.75" x2="224.63" y2="253.25"/>
<line class="g" x1="258.2" y1="222.2" x2="209.6" y2="250.7"/>
<line class="g" x1="348.4" y1="237.5" x2="258.2" y2="222.2"/>
<line class="g" x1="340.3" y1="242.25" x2="250.1" y2="226.95"/>
<line class="g" x1="332.2" y1="247" x2="242" y2="231.7"/>
<line class="g" x1="324.1" y1="251.75" x2="233.9" y2="236.45"/>
<line class="g" x1="316" y1="256.5" x2="225.8" y2="241.2"/>
<line class="g" x1="307.9" y1="261.25" x2="217.7" y2="245.95"/>
<line class="g" x1="299.8" y1="266" x2="209.6" y2="250.7"/>
<line class="g" x1="258.2" y1="222.2" x2="258.2" y2="156.6"/>
<line class="g" x1="250.1" y1="226.95" x2="250.1" y2="161.35"/>
<line class="g" x1="242" y1="231.7" x2="242" y2="166.1"/>
<line class="g" x1="233.9" y1="236.45" x2="233.9" y2="170.85"/>
<line class="g" x1="225.8" y1="241.2" x2="225.8" y2="175.6"/>
<line class="g" x1="217.7" y1="245.95" x2="217.7" y2="180.35"/>
<line class="g" x1="209.6" y1="250.7" x2="209.6" y2="185.1"/>
<line class="g" x1="258.2" y1="222.2" x2="209.6" y2="250.7"/>
<line class="g" x1="258.2" y1="209.08" x2="209.6" y2="237.58"/>
<line class="g" x1="258.2" y1="195.96" x2="209.6" y2="224.46"/>
<line class="g" x1="258.2" y1="182.84" x2="209.6" y2="211.34"/>
<line class="g" x1="258.2" y1="169.72" x2="209.6" y2="198.22"/>
<line class="g" x1="258.2" y1="156.6" x2="209.6" y2="185.1"/>
<line class="g" x1="348.4" y1="237.5" x2="348.4" y2="171.9"/>
<line class="g" x1="333.37" y1="234.95" x2="333.37" y2="169.35"/>
<line class="g" x1="318.33" y1="232.4" x2="318.33" y2="166.8"/>
<line class="g" x1="303.3" y1="229.85" x2="303.3" y2="164.25"/>
<line class="g" x1="288.26" y1="227.3" x2="288.26" y2="161.7"/>
<line class="g" x1="273.23" y1="224.75" x2="273.23" y2="159.15"/>
<line class="g" x1="258.2" y1="222.2" x2="258.2" y2="156.6"/>
<line class="g" x1="348.4" y1="237.5" x2="258.2" y2="222.2"/>
<line class="g" x1="348.4" y1="224.38" x2="258.2" y2="209.08"/>
<line class="g" x1="348.4" y1="211.26" x2="258.2" y2="195.96"/>
<line class="g" x1="348.4" y1="198.14" x2="258.2" y2="182.84"/>
<line class="g" x1="348.4" y1="185.02" x2="258.2" y2="169.72"/>
<line class="g" x1="348.4" y1="171.9" x2="258.2" y2="156.6"/>
<line class="a" x1="209.6" y1="250.7" x2="299.8" y2="266"/>
<line class="a" x1="299.8" y1="266" x2="348.4" y2="237.5"/>
<line class="a" x1="209.6" y1="250.7" x2="209.6" y2="185.1"/>
<line class="a" x1="299.8" y1="266" x2="298.25" y2="266.91"/>
<line class="a" x1="284.77" y1="263.45" x2="283.21" y2="264.36"/>
<line class="a" x1="269.73" y1="260.9" x2="268.18" y2="261.81"/>
<line class="a" x1="254.7" y1="258.35" x2="253.15" y2="259.26"/>
<line class="a" x1="239.66" y1="255.8" x2="238.11" y2="256.71"/>
<line class="a" x1="224.63" y1="253.25" x2="223.08" y2="254.16"/>
<line class="a" x1="209.6" y1="250.7" x2="208.04" y2="251.61"/>
<line class="a" x1="348.4" y1="237.5" x2="350.17" y2="237.8"/>
<line class="a" x1="340.3" y1="242.25" x2="342.07" y2="242.55"/>
<line class="a" x1="332.2" y1="247" x2="333.97" y2="247.3"/>
<line class="a" x1="324.1" y1="251.75" x2="325.87" y2="252.05"/>
<line class="a" x1="316" y1="256.5" x2="317.77" y2="256.8"/>
<line class="a" x1="307.9" y1="261.25" x2="309.67" y2="261.55"/>
<line class="a" x1="299.8" y1="266" x2="301.57" y2="266.3"/>
<line class="a" x1="209.6" y1="250.7" x2="207.82" y2="250.4"/>
<line class="a" x1="209.6" y1="237.58" x2="207.82" y2="237.28"/>
<line class="a" x1="209.6" y1="224.46" x2="207.82" y2="224.16"/>
<line class="a" x1="209.6" y1="211.34" x2="207.82" y2="211.04"/>
<line class="a" x1="209.6" y1="198.22" x2="207.82" y2="197.92"/>
<line class="a" x1="209.6" y1="185.1" x2="207.82" y2="184.8"/>
<text class="t" text-anchor="end" transform="translate(297.4 272.7) scale(0.1)">0</text>
<text class="t" text-anchor="end" transform="translate(282.37 270.15) scale(0.1)">0.2</text>
<text class="t" text-anchor="end" transform="translate(267.33 267.6) scale(0.1)">0.4</text>
<text class="t" text-anchor="end" transform="translate(252.3 265.05) scale(0.1)">0.6</text>
<text class="t" text-anchor="end" transform="translate(237.26 262.5) scale(0.1)">0.8</text>
<text class="t" text-anchor="end" transform="translate(222.23 259.95) scale(0.1)">1</text>
<text class="t" text-anchor="end" transform="translate(207.2 257.4) scale(0.1)">1.2</text>
<text class="t" text-anchor="start" transform="translate(352.7 242.9) scale(0.1)">0</text>
<text class="t" text-anchor="start" transform="translate(344.6 247.65) scale(0.1)">0.2</text>
<text class="t" text-anchor="start" transform="translate(336.5 252.4) scale(0.1)">0.4</text>
<text class="t" text-anchor="start" transform="translate(328.4 257.15) scale(0.1)">0.6</text>
<text class="t" text-anchor="start" transform="translate(320.3 261.9) scale(0.1)">0.8</text>
<text class="t" text-anchor="start" transform="translate(312.2 266.65) scale(0.1)">1</text>
<text class="t" text-anchor="start" transform="translate(304.1 271.4) scale(0.1)">1.2</text>
<text class="t" text-anchor="end" transform="translate(206 251.9) scale(0.1)">0</text>
<text class="t" text-anchor="end" transform="translate(206 238.78) scale(0.1)">0.2</text>
<text class="t" text-anchor="end" transform="translate(206 225.66) scale(0.1)">0.4</text>
<text class="t" text-anchor="end" transform="translate(206 212.54) scale(0.1)">0.6</text>
<text class="t" text-anchor="end" transform="translate(206 199.42) scale(0.1)">0.8</text>
<text class="t" text-anchor="end" transform="translate(206 186.3) scale(0.1)">1</text>
<text class="al" text-anchor="middle" transform="translate(258.6 273.8) scale(0.1)">x-axis</text>
<text class="al" text-anchor="middle" transform="translate(332.3 271.3) scale(0.1)">y-axis</text>
<text class="al" text-anchor="middle" transform="translate(197.9 217.8) rotate(-90) scale(0.1)">z-axis</text>
<path class="thg" d="M248.7 179.7 L338.5 184.9 L301.5 186.5 L290.9 191.6"/>
<path class="thg" d="M248.7 179.7 L338.5 185.2"/>
<path class="thg" d="M261 180.8 L330.4 188 L301.5 186.7"/>
<path class="thg" d="M276 182.1 L338.5 185.5"/>
<path class="thb" d="M287 191.5 L237 210.3"/>
<path class="thb" d="M290.9 191.6 L241.6 213.8"/>
<path class="thb" d="M233 216.8 L246 214.2 L275.6 217.7"/>
<path class="thb" d="M234 219.3 L245 214.8"/>
<path class="thr" d="M275.6 217.7 L332.8 224.4 L329.4 230.3 L262 245.5"/>
<circle cx="248.7" cy="179.7" r="0.6" fill="#f0a030"/>
<circle cx="330.4" cy="188" r="0.6" fill="#5b9bd5"/>
<circle cx="301.5" cy="186.5" r="0.6" fill="#f0a030"/>
<circle cx="246" cy="214.2" r="0.6" fill="#f0a030"/>
<circle cx="332.8" cy="224.4" r="0.6" fill="#5b9bd5"/>
<circle cx="329.4" cy="230.3" r="0.6" fill="#5b9bd5"/>
<circle cx="262" cy="245.5" r="0.6" fill="#5b9bd5"/>
<path class="kr" d="M275.6 217.7C277.07 217.88 281.67 218.27 284.4 218.8C287.13 219.33 289.82 220.15 292 220.9C294.18 221.65 296.08 222.38 297.5 223.3C298.92 224.22 300.05 225.33 300.5 226.4C300.95 227.47 300.88 228.52 300.2 229.7C299.52 230.88 298.32 232.23 296.4 233.5C294.48 234.77 291.8 236.03 288.7 237.3C285.6 238.57 281.43 239.97 277.8 241.1C274.17 242.23 269.53 243.37 266.9 244.1C264.27 244.83 262.82 245.27 262 245.5"/>
<path class="kb" style="stroke-dasharray:3.2,1.6;stroke-linecap:butt;stroke-width:1.25" d="M290.9 191.6C289.15 192.17 284.22 193.8 280.4 195C276.58 196.2 271.42 197.58 268 198.8C264.58 200.02 262.42 201.37 259.9 202.3C257.38 203.23 255.22 203.65 252.9 204.4C250.58 205.15 247.97 205.93 246 206.8C244.03 207.67 242.33 208.67 241.1 209.6C239.87 210.53 238.83 211.62 238.6 212.4C238.37 213.18 238.82 213.78 239.7 214.3C240.58 214.82 242.4 215.18 243.9 215.5C245.4 215.82 245.55 215.92 248.7 216.2C251.85 216.48 258.32 216.95 262.8 217.2C267.28 217.45 273.47 217.62 275.6 217.7"/>
<path class="kb" style="stroke-dasharray:3,1.2,0.8,1.2;stroke-linecap:butt;stroke-width:1.25" d="M290.9 191.6C289.75 192.13 286.87 193.42 284 194.8C281.13 196.18 277.23 198.2 273.7 199.9C270.17 201.6 265.83 203.57 262.8 205C259.77 206.43 257.55 207.42 255.5 208.5C253.45 209.58 251.82 210.57 250.5 211.5C249.18 212.43 248.12 213.35 247.6 214.1C247.08 214.85 247 215.53 247.4 216C247.8 216.47 247.43 216.7 250 216.9C252.57 217.1 258.53 217.07 262.8 217.2C267.07 217.33 273.47 217.62 275.6 217.7"/>
<path class="kb" style="stroke-width:1.25" d="M290.9 191.6C289.85 192.13 287.47 193.37 284.6 194.8C281.73 196.23 277.33 198.38 273.7 200.2C270.07 202.02 266.07 204.03 262.8 205.7C259.53 207.37 256.28 209.02 254.1 210.2C251.92 211.38 250.8 212.02 249.7 212.8C248.6 213.58 247.77 214.3 247.5 214.9C247.23 215.5 247.37 216.03 248.1 216.4C248.83 216.77 249.45 216.97 251.9 217.1C254.35 217.23 258.85 217.1 262.8 217.2C266.75 217.3 273.47 217.62 275.6 217.7"/>
<path class="kg" style="stroke-dasharray:3.2,1.6;stroke-linecap:butt;stroke-width:1.25" d="M248.7 179.7C250.07 179.79 253.72 180 256.9 180.25C260.08 180.5 264.17 180.86 267.8 181.2C271.43 181.54 275.42 181.92 278.7 182.3C281.98 182.68 285.22 183.05 287.5 183.5C289.78 183.95 291 184.47 292.4 185C293.8 185.53 295.23 186.15 295.9 186.7C296.57 187.25 296.65 187.73 296.4 188.3C296.15 188.87 295.32 189.55 294.4 190.1C293.48 190.65 291.48 191.35 290.9 191.6"/>
<path class="kg" style="stroke-dasharray:3,1.2,0.8,1.2;stroke-linecap:butt;stroke-width:1.25" d="M248.7 179.7C250.07 179.78 253.72 179.93 256.9 180.15C260.08 180.37 264.17 180.71 267.8 181C271.43 181.29 275.42 181.57 278.7 181.9C281.98 182.23 285.07 182.58 287.5 183C289.93 183.42 291.65 183.85 293.3 184.4C294.95 184.95 296.58 185.67 297.4 186.3C298.22 186.93 298.47 187.57 298.2 188.2C297.93 188.83 297.02 189.53 295.8 190.1C294.58 190.67 291.72 191.35 290.9 191.6"/>
<path class="kg" style="stroke-width:1.25" d="M248.7 179.7C250.07 179.78 253.72 179.97 256.9 180.2C260.08 180.43 264.17 180.78 267.8 181.1C271.43 181.42 275.42 181.75 278.7 182.1C281.98 182.45 285.13 182.78 287.5 183.2C289.87 183.62 291.37 184.07 292.9 184.6C294.43 185.13 295.97 185.8 296.7 186.4C297.43 187 297.57 187.6 297.3 188.2C297.03 188.8 296.17 189.43 295.1 190C294.03 190.57 291.6 191.33 290.9 191.6"/>
<line class="g" x1="539.4" y1="237.5" x2="490.8" y2="266"/>
<line class="g" x1="524.37" y1="234.95" x2="475.77" y2="263.45"/>
<line class="g" x1="509.33" y1="232.4" x2="460.73" y2="260.9"/>
<line class="g" x1="494.3" y1="229.85" x2="445.7" y2="258.35"/>
<line class="g" x1="479.26" y1="227.3" x2="430.66" y2="255.8"/>
<line class="g" x1="464.23" y1="224.75" x2="415.63" y2="253.25"/>
<line class="g" x1="449.2" y1="222.2" x2="400.6" y2="250.7"/>
<line class="g" x1="539.4" y1="237.5" x2="449.2" y2="222.2"/>
<line class="g" x1="531.3" y1="242.25" x2="441.1" y2="226.95"/>
<line class="g" x1="523.2" y1="247" x2="433" y2="231.7"/>
<line class="g" x1="515.1" y1="251.75" x2="424.9" y2="236.45"/>
<line class="g" x1="507" y1="256.5" x2="416.8" y2="241.2"/>
<line class="g" x1="498.9" y1="261.25" x2="408.7" y2="245.95"/>
<line class="g" x1="490.8" y1="266" x2="400.6" y2="250.7"/>
<line class="g" x1="449.2" y1="222.2" x2="449.2" y2="156.6"/>
<line class="g" x1="441.1" y1="226.95" x2="441.1" y2="161.35"/>
<line class="g" x1="433" y1="231.7" x2="433" y2="166.1"/>
<line class="g" x1="424.9" y1="236.45" x2="424.9" y2="170.85"/>
<line class="g" x1="416.8" y1="241.2" x2="416.8" y2="175.6"/>
<line class="g" x1="408.7" y1="245.95" x2="408.7" y2="180.35"/>
<line class="g" x1="400.6" y1="250.7" x2="400.6" y2="185.1"/>
<line class="g" x1="449.2" y1="222.2" x2="400.6" y2="250.7"/>
<line class="g" x1="449.2" y1="209.08" x2="400.6" y2="237.58"/>
<line class="g" x1="449.2" y1="195.96" x2="400.6" y2="224.46"/>
<line class="g" x1="449.2" y1="182.84" x2="400.6" y2="211.34"/>
<line class="g" x1="449.2" y1="169.72" x2="400.6" y2="198.22"/>
<line class="g" x1="449.2" y1="156.6" x2="400.6" y2="185.1"/>
<line class="g" x1="539.4" y1="237.5" x2="539.4" y2="171.9"/>
<line class="g" x1="524.37" y1="234.95" x2="524.37" y2="169.35"/>
<line class="g" x1="509.33" y1="232.4" x2="509.33" y2="166.8"/>
<line class="g" x1="494.3" y1="229.85" x2="494.3" y2="164.25"/>
<line class="g" x1="479.26" y1="227.3" x2="479.26" y2="161.7"/>
<line class="g" x1="464.23" y1="224.75" x2="464.23" y2="159.15"/>
<line class="g" x1="449.2" y1="222.2" x2="449.2" y2="156.6"/>
<line class="g" x1="539.4" y1="237.5" x2="449.2" y2="222.2"/>
<line class="g" x1="539.4" y1="224.38" x2="449.2" y2="209.08"/>
<line class="g" x1="539.4" y1="211.26" x2="449.2" y2="195.96"/>
<line class="g" x1="539.4" y1="198.14" x2="449.2" y2="182.84"/>
<line class="g" x1="539.4" y1="185.02" x2="449.2" y2="169.72"/>
<line class="g" x1="539.4" y1="171.9" x2="449.2" y2="156.6"/>
<line class="a" x1="400.6" y1="250.7" x2="490.8" y2="266"/>
<line class="a" x1="490.8" y1="266" x2="539.4" y2="237.5"/>
<line class="a" x1="400.6" y1="250.7" x2="400.6" y2="185.1"/>
<line class="a" x1="490.8" y1="266" x2="489.25" y2="266.91"/>
<line class="a" x1="475.77" y1="263.45" x2="474.21" y2="264.36"/>
<line class="a" x1="460.73" y1="260.9" x2="459.18" y2="261.81"/>
<line class="a" x1="445.7" y1="258.35" x2="444.15" y2="259.26"/>
<line class="a" x1="430.66" y1="255.8" x2="429.11" y2="256.71"/>
<line class="a" x1="415.63" y1="253.25" x2="414.08" y2="254.16"/>
<line class="a" x1="400.6" y1="250.7" x2="399.04" y2="251.61"/>
<line class="a" x1="539.4" y1="237.5" x2="541.17" y2="237.8"/>
<line class="a" x1="531.3" y1="242.25" x2="533.07" y2="242.55"/>
<line class="a" x1="523.2" y1="247" x2="524.97" y2="247.3"/>
<line class="a" x1="515.1" y1="251.75" x2="516.87" y2="252.05"/>
<line class="a" x1="507" y1="256.5" x2="508.77" y2="256.8"/>
<line class="a" x1="498.9" y1="261.25" x2="500.67" y2="261.55"/>
<line class="a" x1="490.8" y1="266" x2="492.57" y2="266.3"/>
<line class="a" x1="400.6" y1="250.7" x2="398.82" y2="250.4"/>
<line class="a" x1="400.6" y1="237.58" x2="398.82" y2="237.28"/>
<line class="a" x1="400.6" y1="224.46" x2="398.82" y2="224.16"/>
<line class="a" x1="400.6" y1="211.34" x2="398.82" y2="211.04"/>
<line class="a" x1="400.6" y1="198.22" x2="398.82" y2="197.92"/>
<line class="a" x1="400.6" y1="185.1" x2="398.82" y2="184.8"/>
<text class="t" text-anchor="end" transform="translate(488.4 272.7) scale(0.1)">0</text>
<text class="t" text-anchor="end" transform="translate(473.37 270.15) scale(0.1)">0.2</text>
<text class="t" text-anchor="end" transform="translate(458.33 267.6) scale(0.1)">0.4</text>
<text class="t" text-anchor="end" transform="translate(443.3 265.05) scale(0.1)">0.6</text>
<text class="t" text-anchor="end" transform="translate(428.26 262.5) scale(0.1)">0.8</text>
<text class="t" text-anchor="end" transform="translate(413.23 259.95) scale(0.1)">1</text>
<text class="t" text-anchor="end" transform="translate(398.2 257.4) scale(0.1)">1.2</text>
<text class="t" text-anchor="start" transform="translate(543.7 242.9) scale(0.1)">0</text>
<text class="t" text-anchor="start" transform="translate(535.6 247.65) scale(0.1)">0.2</text>
<text class="t" text-anchor="start" transform="translate(527.5 252.4) scale(0.1)">0.4</text>
<text class="t" text-anchor="start" transform="translate(519.4 257.15) scale(0.1)">0.6</text>
<text class="t" text-anchor="start" transform="translate(511.3 261.9) scale(0.1)">0.8</text>
<text class="t" text-anchor="start" transform="translate(503.2 266.65) scale(0.1)">1</text>
<text class="t" text-anchor="start" transform="translate(495.1 271.4) scale(0.1)">1.2</text>
<text class="t" text-anchor="end" transform="translate(397 251.9) scale(0.1)">0</text>
<text class="t" text-anchor="end" transform="translate(397 238.78) scale(0.1)">0.2</text>
<text class="t" text-anchor="end" transform="translate(397 225.66) scale(0.1)">0.4</text>
<text class="t" text-anchor="end" transform="translate(397 212.54) scale(0.1)">0.6</text>
<text class="t" text-anchor="end" transform="translate(397 199.42) scale(0.1)">0.8</text>
<text class="t" text-anchor="end" transform="translate(397 186.3) scale(0.1)">1</text>
<text class="al" text-anchor="middle" transform="translate(449.6 273.8) scale(0.1)">x-axis</text>
<text class="al" text-anchor="middle" transform="translate(523.3 271.3) scale(0.1)">y-axis</text>
<text class="al" text-anchor="middle" transform="translate(388.9 217.8) rotate(-90) scale(0.1)">z-axis</text>
<path class="thg" d="M439.7 179.7 L532.8 184.5 L492.7 186.6 L481.9 191.6"/>
<path class="thg" d="M439.7 179.7 L532.8 184.9 L490.5 186.8"/>
<path class="thg" d="M439.7 179.7 L532.8 185.3 L494.5 186.5"/>
<path class="thb" d="M481.9 191.6 L430.7 210.8"/>
<path class="thb" d="M481.9 191.6 L432.6 213.8"/>
<path class="thb" d="M425.5 216.6 L437 214.2 L466.6 217.7"/>
<path class="thb" d="M426 218.8 L439 214.5"/>
<path class="thb" d="M426.5 220.8 L442 215.3"/>
<path class="thr" d="M466.6 217.7 L523.8 224.4 L520.4 230.3 L453 245.5"/>
<circle cx="439.7" cy="179.7" r="0.6" fill="#f0a030"/>
<circle cx="492.7" cy="186.6" r="0.6" fill="#f0a030"/>
<circle cx="494.5" cy="186.5" r="0.6" fill="#5b9bd5"/>
<circle cx="437" cy="214.2" r="0.6" fill="#f0a030"/>
<circle cx="523.8" cy="224.4" r="0.6" fill="#5b9bd5"/>
<circle cx="520.4" cy="230.3" r="0.6" fill="#5b9bd5"/>
<circle cx="453" cy="245.5" r="0.6" fill="#5b9bd5"/>
<path class="kr" d="M466.6 217.7C468.07 217.88 472.67 218.27 475.4 218.8C478.13 219.33 480.82 220.15 483 220.9C485.18 221.65 487.08 222.38 488.5 223.3C489.92 224.22 491.05 225.33 491.5 226.4C491.95 227.47 491.88 228.52 491.2 229.7C490.52 230.88 489.32 232.23 487.4 233.5C485.48 234.77 482.8 236.03 479.7 237.3C476.6 238.57 472.43 239.97 468.8 241.1C465.17 242.23 460.53 243.37 457.9 244.1C455.27 244.83 453.82 245.27 453 245.5"/>
<path class="kb" style="stroke-dasharray:3.2,1.6;stroke-linecap:butt;stroke-width:1.25" d="M481.9 191.6C480.85 192.1 478.47 193.27 475.6 194.6C472.73 195.93 467.97 198.23 464.7 199.6C461.43 200.97 458.95 201.6 456 202.8C453.05 204 449.67 205.47 447 206.8C444.33 208.13 441.78 209.72 440 210.8C438.22 211.88 437 212.55 436.3 213.3C435.6 214.05 435.52 214.75 435.8 215.3C436.08 215.85 436.82 216.3 438 216.6C439.18 216.9 440.27 217 442.9 217.1C445.53 217.2 449.85 217.1 453.8 217.2C457.75 217.3 464.47 217.62 466.6 217.7"/>
<path class="kb" style="stroke-dasharray:3,1.2,0.8,1.2;stroke-linecap:butt;stroke-width:1.25" d="M481.9 191.6C480.85 192.13 478.47 193.32 475.6 194.8C472.73 196.28 467.57 198.67 464.7 200.5C461.83 202.33 460.52 204.25 458.4 205.8C456.28 207.35 453.9 208.58 452 209.8C450.1 211.02 448.23 212.18 447 213.1C445.77 214.02 444.9 214.73 444.6 215.3C444.3 215.87 444.63 216.22 445.2 216.5C445.77 216.78 446.57 216.88 448 217C449.43 217.12 450.7 217.08 453.8 217.2C456.9 217.32 464.47 217.62 466.6 217.7"/>
<path class="kb" style="stroke-width:1.25" d="M481.9 191.6C480.85 192.13 478.47 193.37 475.6 194.8C472.73 196.23 468.33 198.38 464.7 200.2C461.07 202.02 457.07 204.03 453.8 205.7C450.53 207.37 447.28 209.02 445.1 210.2C442.92 211.38 441.8 212.02 440.7 212.8C439.6 213.58 438.77 214.3 438.5 214.9C438.23 215.5 438.37 216.03 439.1 216.4C439.83 216.77 440.45 216.97 442.9 217.1C445.35 217.23 449.85 217.1 453.8 217.2C457.75 217.3 464.47 217.62 466.6 217.7"/>
<path class="kg" style="stroke-dasharray:3.2,1.6;stroke-linecap:butt;stroke-width:1.25" d="M439.7 179.7C441.07 179.79 444.72 179.98 447.9 180.25C451.08 180.52 455.17 180.93 458.8 181.3C462.43 181.68 466.42 182.08 469.7 182.5C472.98 182.92 476.28 183.32 478.5 183.8C480.72 184.28 481.72 184.88 483 185.4C484.28 185.92 485.57 186.38 486.2 186.9C486.83 187.42 487.02 187.93 486.8 188.5C486.58 189.07 485.72 189.78 484.9 190.3C484.08 190.82 482.4 191.38 481.9 191.6"/>
<path class="kg" style="stroke-dasharray:3,1.2,0.8,1.2;stroke-linecap:butt;stroke-width:1.25" d="M439.7 179.7C441.07 179.78 444.72 179.95 447.9 180.15C451.08 180.35 455.17 180.64 458.8 180.9C462.43 181.16 466.42 181.38 469.7 181.7C472.98 182.02 475.98 182.37 478.5 182.8C481.02 183.23 482.98 183.72 484.8 184.3C486.62 184.88 488.53 185.65 489.4 186.3C490.27 186.95 490.35 187.55 490 188.2C489.65 188.85 488.65 189.63 487.3 190.2C485.95 190.77 482.8 191.37 481.9 191.6"/>
<path class="kg" style="stroke-width:1.25" d="M439.7 179.7C441.07 179.78 444.72 179.97 447.9 180.2C451.08 180.43 455.17 180.78 458.8 181.1C462.43 181.42 466.42 181.75 469.7 182.1C472.98 182.45 476.13 182.78 478.5 183.2C480.87 183.62 482.37 184.07 483.9 184.6C485.43 185.13 486.97 185.8 487.7 186.4C488.43 187 488.57 187.6 488.3 188.2C488.03 188.8 487.17 189.43 486.1 190C485.03 190.57 482.6 191.33 481.9 191.6"/>
<text class="c" font-weight="bold" x="16.73" y="139.5" font-size="10.3" textLength="12.55" lengthAdjust="spacingAndGlyphs" transform="matrix(1 0 0 1.1 0 -13.95)">(a)</text>
<text class="c" font-weight="bold" font-style="italic" x="36.56" y="139.5" font-size="13.8" textLength="10.3" lengthAdjust="spacingAndGlyphs" transform="matrix(1 0 0 1.1 0 -13.95)">Ω</text>
<text class="c" font-style="italic" x="48.6" y="142.6" font-size="6.9" textLength="1.82" lengthAdjust="spacingAndGlyphs" transform="matrix(1 0 0 1.1 0 -14.26)">j</text>
<text class="c" x="55.39" y="139.5" font-size="11.5" textLength="6.81" lengthAdjust="spacingAndGlyphs" transform="matrix(1 0 0 1.1 0 -13.95)">=</text>
<text class="c" x="66.64" y="139.5" font-size="11.5" textLength="38.73" lengthAdjust="spacingAndGlyphs" transform="matrix(1 0 0 1.1 0 -13.95)">(1,1,1,1),</text>
<text class="c" font-style="italic" x="110.16" y="139.5" font-size="11.5" textLength="3.2" lengthAdjust="spacingAndGlyphs" transform="matrix(1 0 0 1.1 0 -13.95)">j</text>
<text class="c" x="117.34" y="139.5" font-size="11.5" textLength="6.81" lengthAdjust="spacingAndGlyphs" transform="matrix(1 0 0 1.1 0 -13.95)">=</text>
<text class="c" x="127.82" y="139.5" font-size="11.5" textLength="22.32" lengthAdjust="spacingAndGlyphs" transform="matrix(1 0 0 1.1 0 -13.95)">1,2,3</text>
<text class="c" font-weight="bold" x="200.29" y="139.5" font-size="10.3" textLength="14.12" lengthAdjust="spacingAndGlyphs" transform="matrix(1 0 0 1.1 0 -13.95)">(b)</text>
<text class="c" font-weight="bold" font-style="italic" x="221.26" y="139.5" font-size="13.8" textLength="10.3" lengthAdjust="spacingAndGlyphs" transform="matrix(1 0 0 1.1 0 -13.95)">Ω</text>
<text class="c" font-style="italic" x="233.2" y="142.6" font-size="6.9" textLength="1.82" lengthAdjust="spacingAndGlyphs" transform="matrix(1 0 0 1.1 0 -14.26)">j</text>
<text class="c" x="240.89" y="139.5" font-size="11.5" textLength="6.81" lengthAdjust="spacingAndGlyphs" transform="matrix(1 0 0 1.1 0 -13.95)">=</text>
<text class="c" x="251.7" y="139.5" font-size="11.5" textLength="50.73" lengthAdjust="spacingAndGlyphs" transform="matrix(1 0 0 1.1 0 -13.95)">(0.5,1,1,1),</text>
<text class="c" font-style="italic" x="307.41" y="139.5" font-size="11.5" textLength="3.2" lengthAdjust="spacingAndGlyphs" transform="matrix(1 0 0 1.1 0 -13.95)">j</text>
<text class="c" x="315.09" y="139.5" font-size="11.5" textLength="6.81" lengthAdjust="spacingAndGlyphs" transform="matrix(1 0 0 1.1 0 -13.95)">=</text>
<text class="c" x="325.32" y="139.5" font-size="11.5" textLength="22.32" lengthAdjust="spacingAndGlyphs" transform="matrix(1 0 0 1.1 0 -13.95)">1,2,3</text>
<text class="c" font-weight="bold" x="398.41" y="139.5" font-size="10.3" textLength="12.27" lengthAdjust="spacingAndGlyphs" transform="matrix(1 0 0 1.1 0 -13.95)">(c)</text>
<text class="c" font-weight="bold" font-style="italic" x="417.46" y="139.5" font-size="13.8" textLength="10.3" lengthAdjust="spacingAndGlyphs" transform="matrix(1 0 0 1.1 0 -13.95)">Ω</text>
<text class="c" font-style="italic" x="429.7" y="142.6" font-size="6.9" textLength="1.82" lengthAdjust="spacingAndGlyphs" transform="matrix(1 0 0 1.1 0 -14.26)">j</text>
<text class="c" x="437.29" y="139.5" font-size="11.5" textLength="6.81" lengthAdjust="spacingAndGlyphs" transform="matrix(1 0 0 1.1 0 -13.95)">=</text>
<text class="c" x="447.83" y="139.5" font-size="11.5" textLength="39.55" lengthAdjust="spacingAndGlyphs" transform="matrix(1 0 0 1.1 0 -13.95)">(0,1,1,1),</text>
<text class="c" font-style="italic" x="491.46" y="139.5" font-size="11.5" textLength="3.2" lengthAdjust="spacingAndGlyphs" transform="matrix(1 0 0 1.1 0 -13.95)">j</text>
<text class="c" x="499.39" y="139.5" font-size="11.5" textLength="6.81" lengthAdjust="spacingAndGlyphs" transform="matrix(1 0 0 1.1 0 -13.95)">=</text>
<text class="c" x="508.75" y="139.5" font-size="11.5" textLength="23.81" lengthAdjust="spacingAndGlyphs" transform="matrix(1 0 0 1.1 0 -13.95)">1,2,3</text>
<text class="c" font-weight="bold" x="15.97" y="303.4" font-size="10.3" textLength="14.76" lengthAdjust="spacingAndGlyphs" transform="matrix(1 0 0 1.1 0 -30.34)">(d)</text>
<text class="c" font-style="italic" x="36.25" y="292.4" font-size="11.5" textLength="8.12" lengthAdjust="spacingAndGlyphs" transform="matrix(1 0 0 1.1 0 -29.24)">ω</text>
<text class="c" font-style="italic" x="47" y="295.5" font-size="6.9" textLength="1.82" lengthAdjust="spacingAndGlyphs" transform="matrix(1 0 0 1.1 0 -29.55)">j</text>
<text class="c" x="54.59" y="292.4" font-size="11.5" textLength="6.81" lengthAdjust="spacingAndGlyphs" transform="matrix(1 0 0 1.1 0 -29.24)">=</text>
<text class="c" x="64.55" y="292.4" font-size="11.5" textLength="7.26" lengthAdjust="spacingAndGlyphs" transform="matrix(1 0 0 1.1 0 -29.24)">1,</text>
<text class="c" font-style="italic" x="74.89" y="292.4" font-size="11.5" textLength="4.98" lengthAdjust="spacingAndGlyphs" transform="matrix(1 0 0 1.1 0 -29.24)">λ</text>
<text class="c" x="80.91" y="295.5" font-size="6.9" textLength="4.92" lengthAdjust="spacingAndGlyphs" transform="matrix(1 0 0 1.1 0 -29.55)">2,</text>
<text class="c" font-style="italic" x="90.6" y="295.5" font-size="6.9" textLength="1.82" lengthAdjust="spacingAndGlyphs" transform="matrix(1 0 0 1.1 0 -29.55)">j</text>
<text class="c" x="98.04" y="292.4" font-size="11.5" textLength="6.81" lengthAdjust="spacingAndGlyphs" transform="matrix(1 0 0 1.1 0 -29.24)">=</text>
<text class="c" font-style="italic" x="109.29" y="292.4" font-size="11.5" textLength="4.98" lengthAdjust="spacingAndGlyphs" transform="matrix(1 0 0 1.1 0 -29.24)">λ</text>
<text class="c" x="115.99" y="295.5" font-size="6.9" textLength="4.92" lengthAdjust="spacingAndGlyphs" transform="matrix(1 0 0 1.1 0 -29.55)">3,</text>
<text class="c" font-style="italic" x="124.3" y="295.5" font-size="6.9" textLength="1.82" lengthAdjust="spacingAndGlyphs" transform="matrix(1 0 0 1.1 0 -29.55)">j</text>
<text class="c" x="131.34" y="292.4" font-size="11.5" textLength="6.81" lengthAdjust="spacingAndGlyphs" transform="matrix(1 0 0 1.1 0 -29.24)">=</text>
<text class="c" x="140.71" y="292.4" font-size="11.5" textLength="5.75" lengthAdjust="spacingAndGlyphs" transform="matrix(1 0 0 1.1 0 -29.24)">1</text>
<text class="c" font-style="italic" x="38.34" y="312.4" font-size="11.5" textLength="4.98" lengthAdjust="spacingAndGlyphs" transform="matrix(1 0 0 1.1 0 -31.24)">λ</text>
<text class="c" x="44.62" y="315.5" font-size="6.9" textLength="4.92" lengthAdjust="spacingAndGlyphs" transform="matrix(1 0 0 1.1 0 -31.55)">1,</text>
<text class="c" font-style="italic" x="51.4" y="315.5" font-size="6.9" textLength="1.82" lengthAdjust="spacingAndGlyphs" transform="matrix(1 0 0 1.1 0 -31.55)">j</text>
<text class="c" x="58.94" y="312.4" font-size="11.5" textLength="6.81" lengthAdjust="spacingAndGlyphs" transform="matrix(1 0 0 1.1 0 -31.24)">=</text>
<text class="c" x="69.28" y="312.4" font-size="11.5" textLength="36.13" lengthAdjust="spacingAndGlyphs" transform="matrix(1 0 0 1.1 0 -31.24)">{0,1,2},</text>
<text class="c" font-style="italic" x="111.46" y="312.4" font-size="11.5" textLength="3.2" lengthAdjust="spacingAndGlyphs" transform="matrix(1 0 0 1.1 0 -31.24)">j</text>
<text class="c" x="118.39" y="312.4" font-size="11.5" textLength="6.81" lengthAdjust="spacingAndGlyphs" transform="matrix(1 0 0 1.1 0 -31.24)">=</text>
<text class="c" x="128.18" y="312.4" font-size="11.5" textLength="23.28" lengthAdjust="spacingAndGlyphs" transform="matrix(1 0 0 1.1 0 -31.24)">1,2,3</text>
<text class="c" font-weight="bold" x="207.7" y="303.4" font-size="10.3" textLength="12.6" lengthAdjust="spacingAndGlyphs" transform="matrix(1 0 0 1.1 0 -30.34)">(e)</text>
<text class="c" font-style="italic" x="226.85" y="292.4" font-size="11.5" textLength="8.12" lengthAdjust="spacingAndGlyphs" transform="matrix(1 0 0 1.1 0 -29.24)">ω</text>
<text class="c" font-style="italic" x="237.5" y="295.5" font-size="6.9" textLength="1.82" lengthAdjust="spacingAndGlyphs" transform="matrix(1 0 0 1.1 0 -29.55)">j</text>
<text class="c" x="244.74" y="292.4" font-size="11.5" textLength="6.81" lengthAdjust="spacingAndGlyphs" transform="matrix(1 0 0 1.1 0 -29.24)">=</text>
<text class="c" x="255.04" y="292.4" font-size="11.5" textLength="6.51" lengthAdjust="spacingAndGlyphs" transform="matrix(1 0 0 1.1 0 -29.24)">1,</text>
<text class="c" font-style="italic" x="263.14" y="292.4" font-size="11.5" textLength="4.98" lengthAdjust="spacingAndGlyphs" transform="matrix(1 0 0 1.1 0 -29.24)">λ</text>
<text class="c" x="270.02" y="295.5" font-size="6.9" textLength="4.92" lengthAdjust="spacingAndGlyphs" transform="matrix(1 0 0 1.1 0 -29.55)">1,</text>
<text class="c" font-style="italic" x="278.4" y="295.5" font-size="6.9" textLength="1.82" lengthAdjust="spacingAndGlyphs" transform="matrix(1 0 0 1.1 0 -29.55)">j</text>
<text class="c" x="285.84" y="292.4" font-size="11.5" textLength="6.81" lengthAdjust="spacingAndGlyphs" transform="matrix(1 0 0 1.1 0 -29.24)">=</text>
<text class="c" font-style="italic" x="297.19" y="292.4" font-size="11.5" textLength="4.98" lengthAdjust="spacingAndGlyphs" transform="matrix(1 0 0 1.1 0 -29.24)">λ</text>
<text class="c" x="303.49" y="295.5" font-size="6.9" textLength="4.92" lengthAdjust="spacingAndGlyphs" transform="matrix(1 0 0 1.1 0 -29.55)">3,</text>
<text class="c" font-style="italic" x="311" y="295.5" font-size="6.9" textLength="1.82" lengthAdjust="spacingAndGlyphs" transform="matrix(1 0 0 1.1 0 -29.55)">j</text>
<text class="c" x="318.59" y="292.4" font-size="11.5" textLength="6.81" lengthAdjust="spacingAndGlyphs" transform="matrix(1 0 0 1.1 0 -29.24)">=</text>
<text class="c" x="327.96" y="292.4" font-size="11.5" textLength="5.75" lengthAdjust="spacingAndGlyphs" transform="matrix(1 0 0 1.1 0 -29.24)">1</text>
<text class="c" font-style="italic" x="228.79" y="312.4" font-size="11.5" textLength="4.98" lengthAdjust="spacingAndGlyphs" transform="matrix(1 0 0 1.1 0 -31.24)">λ</text>
<text class="c" x="235.41" y="315.5" font-size="6.9" textLength="4.92" lengthAdjust="spacingAndGlyphs" transform="matrix(1 0 0 1.1 0 -31.55)">2,</text>
<text class="c" font-style="italic" x="242.4" y="315.5" font-size="6.9" textLength="1.82" lengthAdjust="spacingAndGlyphs" transform="matrix(1 0 0 1.1 0 -31.55)">j</text>
<text class="c" x="249.94" y="312.4" font-size="11.5" textLength="6.81" lengthAdjust="spacingAndGlyphs" transform="matrix(1 0 0 1.1 0 -31.24)">=</text>
<text class="c" x="260.78" y="312.4" font-size="11.5" textLength="36.13" lengthAdjust="spacingAndGlyphs" transform="matrix(1 0 0 1.1 0 -31.24)">{0,1,2},</text>
<text class="c" font-style="italic" x="300.76" y="312.4" font-size="11.5" textLength="3.2" lengthAdjust="spacingAndGlyphs" transform="matrix(1 0 0 1.1 0 -31.24)">j</text>
<text class="c" x="308.04" y="312.4" font-size="11.5" textLength="6.81" lengthAdjust="spacingAndGlyphs" transform="matrix(1 0 0 1.1 0 -31.24)">=</text>
<text class="c" x="317.53" y="312.4" font-size="11.5" textLength="24.35" lengthAdjust="spacingAndGlyphs" transform="matrix(1 0 0 1.1 0 -31.24)">1,2,3</text>
<text class="c" font-weight="bold" x="395.6" y="303.4" font-size="10.3" textLength="11.29" lengthAdjust="spacingAndGlyphs" transform="matrix(1 0 0 1.1 0 -30.34)">(f)</text>
<text class="c" font-style="italic" x="414.6" y="292.4" font-size="11.5" textLength="8.12" lengthAdjust="spacingAndGlyphs" transform="matrix(1 0 0 1.1 0 -29.24)">ω</text>
<text class="c" font-style="italic" x="426.6" y="295.5" font-size="6.9" textLength="1.82" lengthAdjust="spacingAndGlyphs" transform="matrix(1 0 0 1.1 0 -29.55)">j</text>
<text class="c" x="432.79" y="292.4" font-size="11.5" textLength="6.81" lengthAdjust="spacingAndGlyphs" transform="matrix(1 0 0 1.1 0 -29.24)">=</text>
<text class="c" x="443.63" y="292.4" font-size="11.5" textLength="18.34" lengthAdjust="spacingAndGlyphs" transform="matrix(1 0 0 1.1 0 -29.24)">0.1,</text>
<text class="c" font-style="italic" x="462.89" y="292.4" font-size="11.5" textLength="4.98" lengthAdjust="spacingAndGlyphs" transform="matrix(1 0 0 1.1 0 -29.24)">λ</text>
<text class="c" x="471.32" y="295.5" font-size="6.9" textLength="4.92" lengthAdjust="spacingAndGlyphs" transform="matrix(1 0 0 1.1 0 -29.55)">1,</text>
<text class="c" font-style="italic" x="478" y="295.5" font-size="6.9" textLength="1.82" lengthAdjust="spacingAndGlyphs" transform="matrix(1 0 0 1.1 0 -29.55)">j</text>
<text class="c" x="486.79" y="292.4" font-size="11.5" textLength="6.81" lengthAdjust="spacingAndGlyphs" transform="matrix(1 0 0 1.1 0 -29.24)">=</text>
<text class="c" font-style="italic" x="498.44" y="292.4" font-size="11.5" textLength="4.98" lengthAdjust="spacingAndGlyphs" transform="matrix(1 0 0 1.1 0 -29.24)">λ</text>
<text class="c" x="505.01" y="295.5" font-size="6.9" textLength="4.92" lengthAdjust="spacingAndGlyphs" transform="matrix(1 0 0 1.1 0 -29.55)">2,</text>
<text class="c" font-style="italic" x="512.4" y="295.5" font-size="6.9" textLength="1.82" lengthAdjust="spacingAndGlyphs" transform="matrix(1 0 0 1.1 0 -29.55)">j</text>
<text class="c" x="520.69" y="292.4" font-size="11.5" textLength="6.81" lengthAdjust="spacingAndGlyphs" transform="matrix(1 0 0 1.1 0 -29.24)">=</text>
<text class="c" x="529.91" y="292.4" font-size="11.5" textLength="5.75" lengthAdjust="spacingAndGlyphs" transform="matrix(1 0 0 1.1 0 -29.24)">1</text>
<text class="c" font-style="italic" x="416.09" y="312.4" font-size="11.5" textLength="4.98" lengthAdjust="spacingAndGlyphs" transform="matrix(1 0 0 1.1 0 -31.24)">λ</text>
<text class="c" x="422.69" y="315.5" font-size="6.9" textLength="4.92" lengthAdjust="spacingAndGlyphs" transform="matrix(1 0 0 1.1 0 -31.55)">3,</text>
<text class="c" font-style="italic" x="429.5" y="315.5" font-size="6.9" textLength="1.82" lengthAdjust="spacingAndGlyphs" transform="matrix(1 0 0 1.1 0 -31.55)">j</text>
<text class="c" x="437.79" y="312.4" font-size="11.5" textLength="6.81" lengthAdjust="spacingAndGlyphs" transform="matrix(1 0 0 1.1 0 -31.24)">=</text>
<text class="c" x="448.76" y="312.4" font-size="11.5" textLength="36.66" lengthAdjust="spacingAndGlyphs" transform="matrix(1 0 0 1.1 0 -31.24)">{0,1,2},</text>
<text class="c" font-style="italic" x="490.06" y="312.4" font-size="11.5" textLength="3.2" lengthAdjust="spacingAndGlyphs" transform="matrix(1 0 0 1.1 0 -31.24)">j</text>
<text class="c" x="497.69" y="312.4" font-size="11.5" textLength="6.81" lengthAdjust="spacingAndGlyphs" transform="matrix(1 0 0 1.1 0 -31.24)">=</text>
<text class="c" x="506.7" y="312.4" font-size="11.5" textLength="25.09" lengthAdjust="spacingAndGlyphs" transform="matrix(1 0 0 1.1 0 -31.24)">1,2,3</text>
<rect x="53.6" y="321.9" width="443" height="17.3" fill="#fff" stroke="#1a1a1a" stroke-width="1.2"/>
<line x1="56.3" y1="330.4" x2="83.7" y2="330.4" stroke="#000" stroke-width="1.6"/>
<text class="lg" x="86.3" y="334" transform="matrix(1 0 0 1.12 0 -40.08)">shape parameter value: 1</text>
<line x1="203.6" y1="330.4" x2="231" y2="330.4" stroke="#000" stroke-width="1.6" stroke-dasharray="5.4 5.9"/>
<text class="lg" x="233.3" y="334" transform="matrix(1 0 0 1.12 0 -40.08)">shape parameter value: 0</text>
<line x1="350.9" y1="330.4" x2="378.2" y2="330.4" stroke="#000" stroke-width="1.6" stroke-dasharray="5.1 2.1 1.9 2.2"/>
<text class="lg" x="380.7" y="334" transform="matrix(1 0 0 1.12 0 -40.08)">shape parameter value: 2</text>
</svg></div></body></html>
